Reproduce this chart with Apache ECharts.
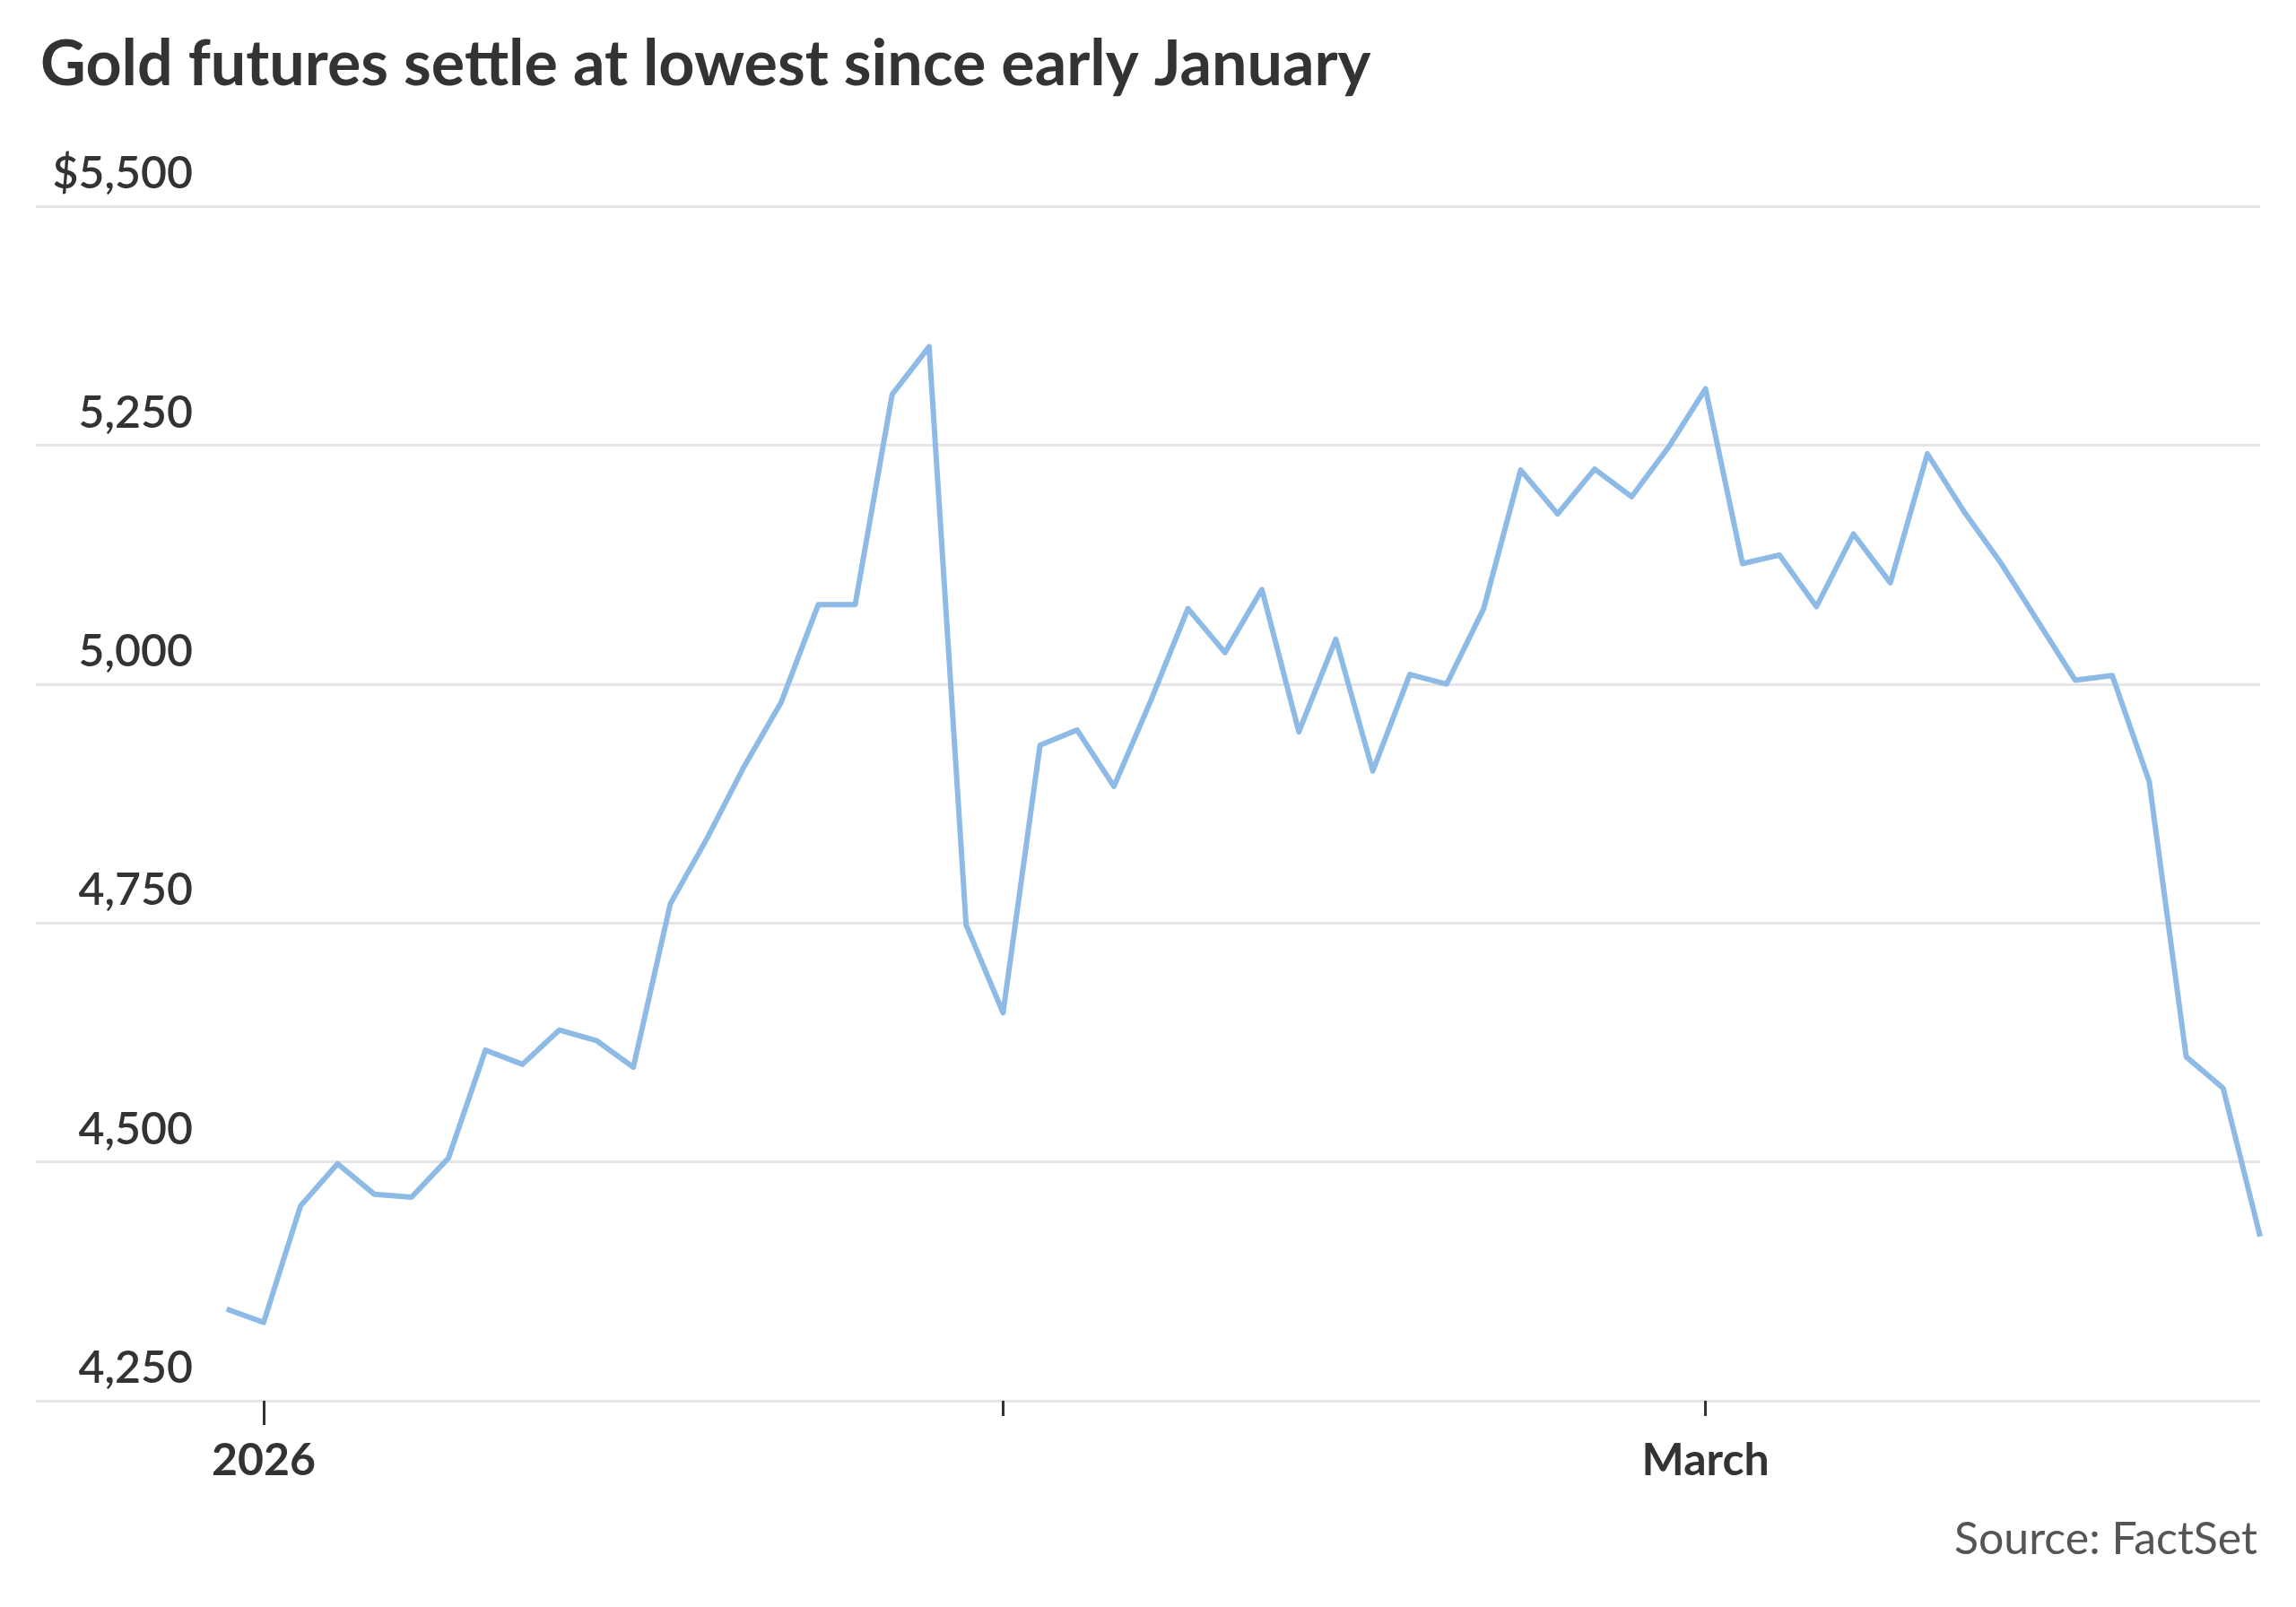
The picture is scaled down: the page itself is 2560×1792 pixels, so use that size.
<!DOCTYPE html>
<html>
<head>
<meta charset="utf-8">
<title>Gold futures</title>
<script src="https://cdn.jsdelivr.net/npm/echarts@6/dist/echarts.min.js"></script>
<style>
  html, body { margin: 0; padding: 0; background: #fff; }
  #chart { width: 2560px; height: 1792px; }
</style>
</head>
<body>
<div id="chart"></div>
<script>
// trading days, Dec 31 2025 .. Mar 23 2026
const dates = [
  '2025-12-31', '2026-01-02', '2026-01-05', '2026-01-06', '2026-01-07', '2026-01-08', '2026-01-09',
  '2026-01-12', '2026-01-13', '2026-01-14', '2026-01-15', '2026-01-16',
  '2026-01-20', '2026-01-21', '2026-01-22', '2026-01-23',
  '2026-01-26', '2026-01-27', '2026-01-28', '2026-01-29', '2026-01-30',
  '2026-02-02', '2026-02-03', '2026-02-04', '2026-02-05', '2026-02-06',
  '2026-02-09', '2026-02-10', '2026-02-11', '2026-02-12', '2026-02-13',
  '2026-02-17', '2026-02-18', '2026-02-19', '2026-02-20',
  '2026-02-23', '2026-02-24', '2026-02-25', '2026-02-26', '2026-02-27',
  '2026-03-02', '2026-03-03', '2026-03-04', '2026-03-05', '2026-03-06',
  '2026-03-09', '2026-03-10', '2026-03-11', '2026-03-12', '2026-03-13',
  '2026-03-16', '2026-03-17', '2026-03-18', '2026-03-19', '2026-03-20',
  '2026-03-23'
];

// settle price, $ per ounce
const settle = [
  4346, 4332, 4454, 4498, 4466, 4463, 4504,
  4617, 4602, 4638, 4627, 4599,
  4770, 4839, 4914, 4981,
  5083, 5083, 5303, 5353, 4748,
  4656, 4936, 4952, 4893, 4983,
  5079, 5033, 5099, 4950, 5047,
  4909, 5010, 5000, 5079,
  5224, 5178, 5225, 5196, 5248,
  5309, 5126, 5135, 5081, 5157,
  5106, 5241, 5180, 5126, 5065,
  5004, 5009, 4898, 4610, 4577,
  4422
];

// x ticks sit on trading-day positions
const yearTick = [1];            // first session of 2026
const monthTicks = [21, 40];     // Feb 2, Mar 2
const labelTicks = [1, 40];
const labelText = { 1: '2026', 40: 'March' };

const yTicks = [4250, 4500, 4750, 5000, 5250, 5500];

const chart = echarts.init(document.getElementById('chart'));

const font = 'Lato, "Noto Sans", sans-serif';
const xMin = -5.16, xMax = dates.length - 1;

chart.setOption({
  backgroundColor: '#ffffff',
  animation: false,
  title: [
    {
      text: 'Gold futures settle at lowest since early January',
      left: 40,
      top: 32,
      textStyle: { fontFamily: font, fontSize: 70, fontWeight: 'bold', color: '#333333' }
    },
    {
      text: 'Source: FactSet',
      right: 38,
      top: 1687,
      textStyle: { fontFamily: font, fontSize: 50, fontWeight: 'normal', color: '#555555' }
    }
  ],
  grid: { left: 40, right: 40, top: 230, height: 1332 },
  xAxis: [
    {
      type: 'value',
      min: xMin,
      max: xMax,
      axisLine: { show: false },
      splitLine: { show: false },
      axisTick: {
        show: true,
        customValues: monthTicks,
        length: 17,
        lineStyle: { color: '#333333', width: 3 }
      },
      axisLabel: {
        customValues: labelTicks,
        formatter: v => labelText[v] || '',
        margin: 42,
        fontFamily: font,
        fontSize: 50,
        fontWeight: 'bold',
        color: '#333333'
      }
    },
    {
      type: 'value',
      position: 'bottom',
      min: xMin,
      max: xMax,
      axisLine: { show: false },
      splitLine: { show: false },
      axisTick: {
        show: true,
        customValues: yearTick,
        length: 27,
        lineStyle: { color: '#333333', width: 3 }
      },
      axisLabel: { show: false }
    }
  ],
  yAxis: {
    type: 'value',
    min: yTicks[0],
    max: yTicks[yTicks.length - 1],
    interval: 250,
    axisLine: { show: false },
    axisTick: { show: false },
    splitLine: { lineStyle: { color: '#e5e5e5', width: 3 } },
    axisLabel: {
      inside: true,
      margin: 175,
      align: 'right',
      verticalAlign: 'bottom',
      padding: [0, 0, 11, 0],
      fontFamily: font,
      fontSize: 50,
      fontWeight: 600,
      color: '#333333',
      formatter: v => (v === yTicks[yTicks.length - 1] ? '$' : '') + v.toLocaleString('en-US')
    }
  },
  series: [{
    type: 'line',
    xAxisIndex: 0,
    data: settle.map((v, i) => [i, v]),
    showSymbol: false,
    symbol: 'none',
    lineStyle: { color: '#8dbbe5', width: 6, join: 'round' }
  }]
});
</script>
</body>
</html>
